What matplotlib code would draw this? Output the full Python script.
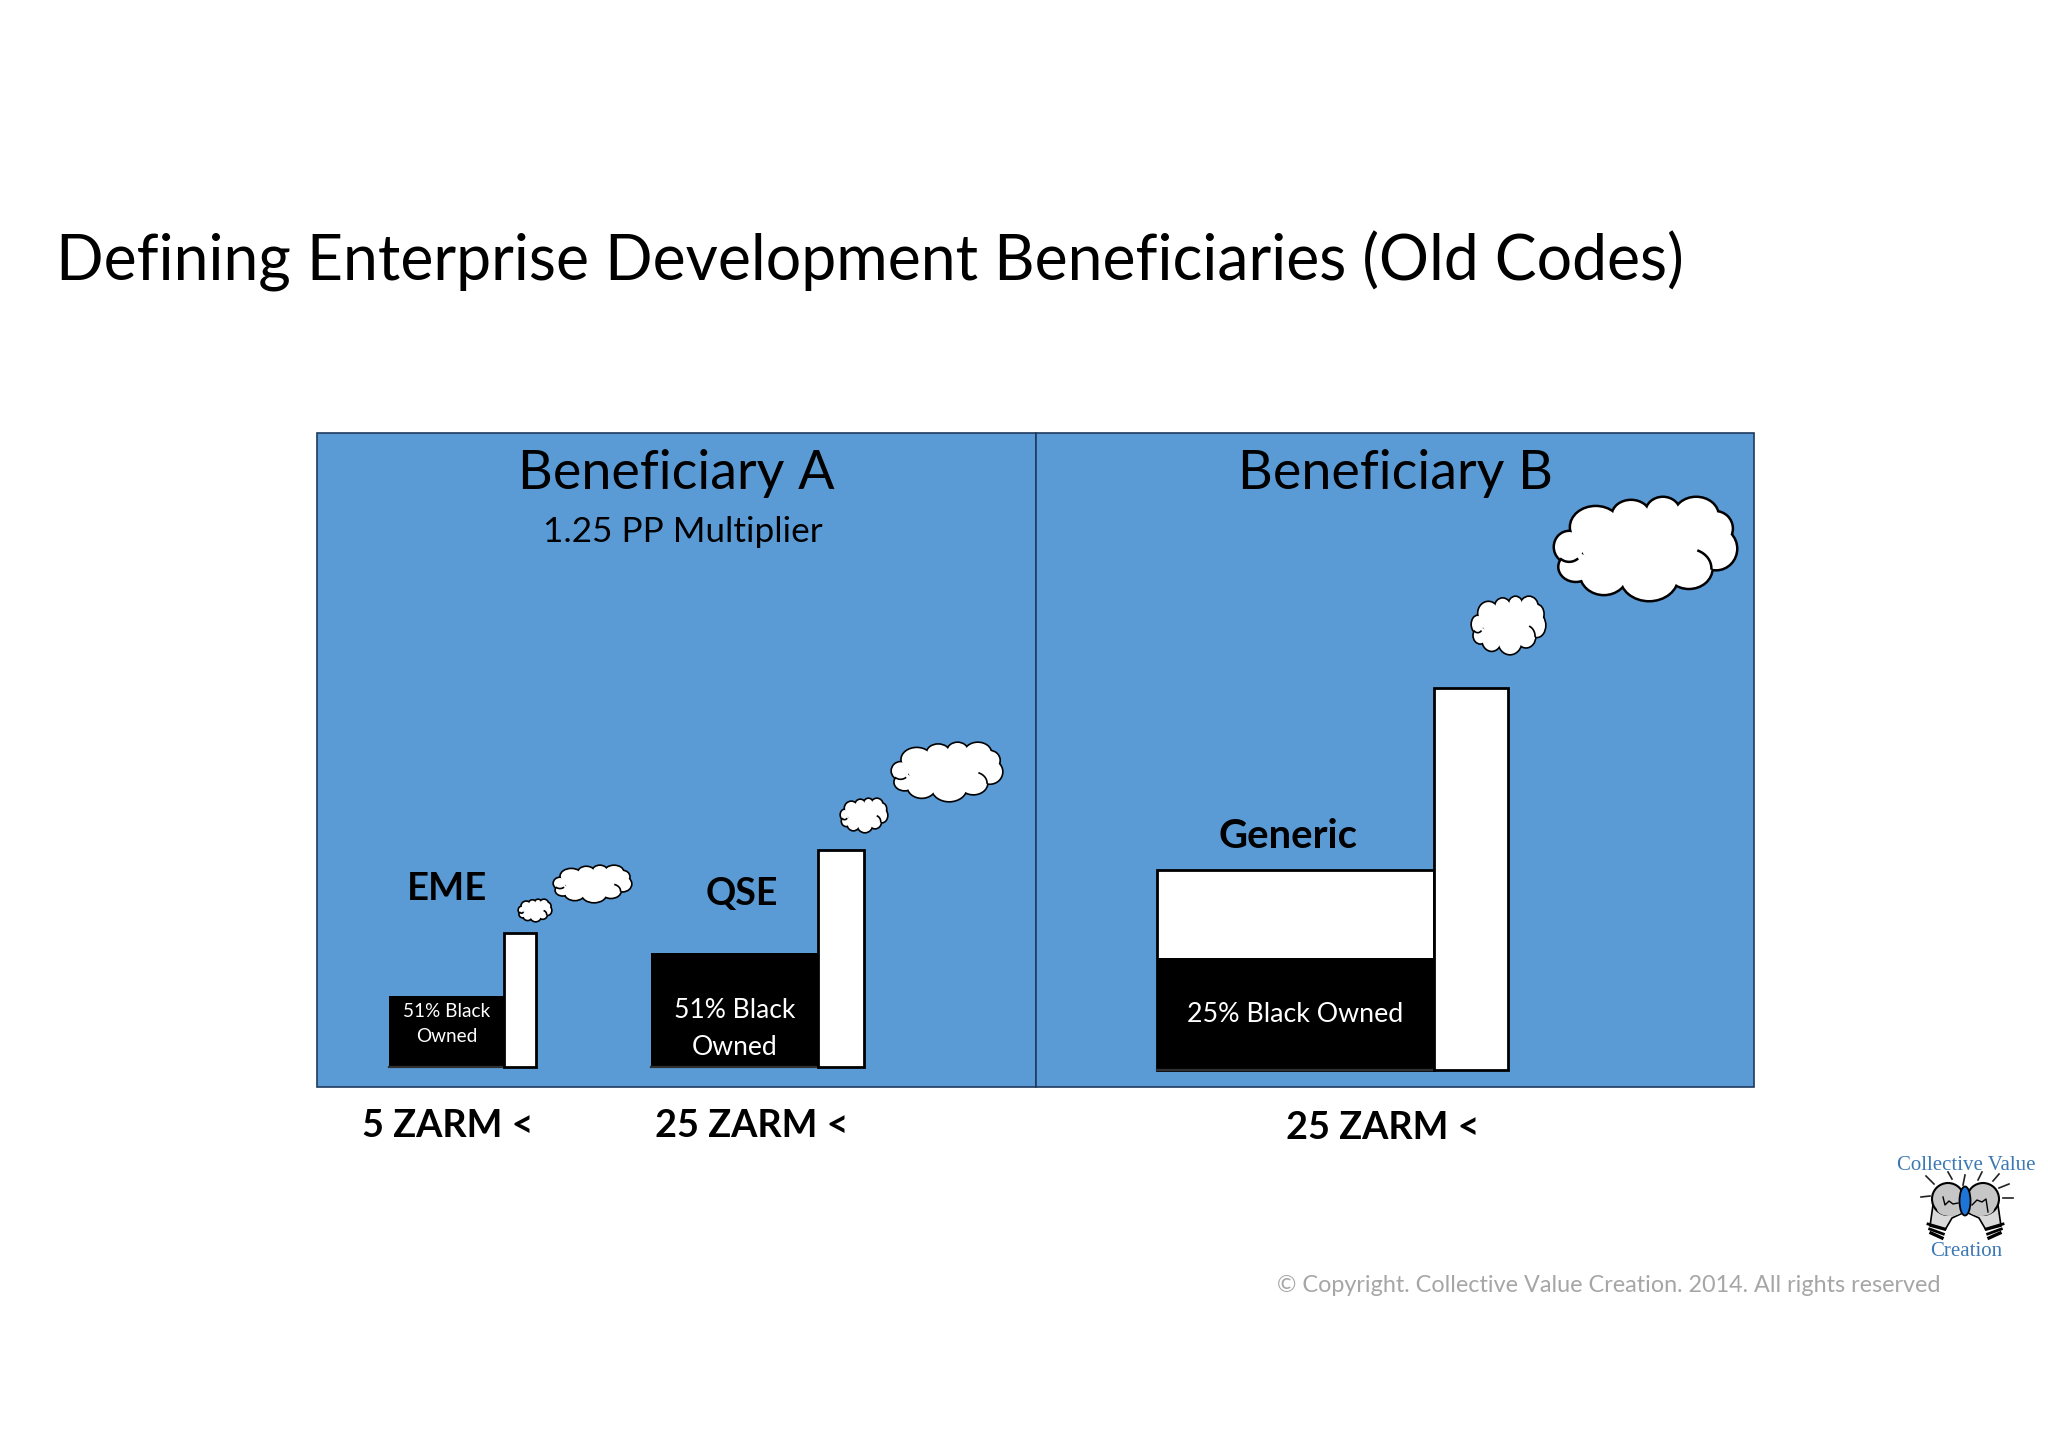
import matplotlib
matplotlib.use("Agg")
import matplotlib.pyplot as plt
import matplotlib.patches as patches
import numpy as np

plt.rcParams["font.family"] = ["Lato", "DejaVu Sans"]

BLUE = "#5b9bd5"

TITLE = "Defining Enterprise Development Beneficiaries (Old Codes)"
COPYRIGHT = "© Copyright. Collective Value Creation. 2014. All rights reserved"

# factory sizes in pixels
factories = ["EME", "QSE", "Generic"]
block_left = [389, 651, 1157]
block_right = [504, 818, 1434]
block_top = [996, 953, 870]
black_top = [996, 953, 958]
base_y = [1067, 1067, 1070]
chimney_right = [536, 864, 1508]
chimney_top = [933, 850, 688]

size_labels = ["5 ZARM <", "25 ZARM <", "25 ZARM <"]
owned_labels = ["51% Black\nOwned", "51% Black\nOwned", "25% Black Owned"]

# cloud boxes: left, right, top, bottom
clouds = [
    (554, 631, 866, 902),
    (519, 551, 900, 921),
    (892, 1002, 743, 801),
    (841, 887, 799, 832),
    (1555, 1736, 498, 600),
    (1472, 1545, 597, 654),
]

# lobes of a cloud in a unit box: cx, cy, rx, ry
LOBES = [
    (0.078, 0.48, 0.078, 0.146),
    (0.115, 0.675, 0.09, 0.136),
    (0.225, 0.285, 0.136, 0.195),
    (0.42, 0.17, 0.10, 0.14),
    (0.596, 0.14, 0.09, 0.14),
    (0.78, 0.172, 0.118, 0.172),
    (0.886, 0.30, 0.09, 0.16),
    (0.89, 0.497, 0.11, 0.2),
    (0.74, 0.69, 0.124, 0.19),
    (0.52, 0.773, 0.155, 0.227),
    (0.27, 0.74, 0.127, 0.2),
]


def draw_curl(ax, lobe, start, end, lw):
    # y runs downwards here, so the angles do too
    cx, cy, ew, eh = lobe
    t = np.radians(np.linspace(start, end, 20))
    ax.plot(cx + ew / 2 * np.cos(t), cy + eh / 2 * np.sin(t), color="black", lw=lw, zorder=6)


def draw_cloud(ax, box):
    x0, x1, y0, y1 = box
    w, h = x1 - x0, y1 - y0
    lw = max(2.0, min(3.0, w / 60))
    lobes = [(x0 + cx * w, y0 + cy * h, 2 * rx * w, 2 * ry * h) for cx, cy, rx, ry in LOBES]
    for cx, cy, ew, eh in lobes:
        ax.add_patch(patches.Ellipse((cx, cy), ew, eh, fc="white", ec="black", lw=lw * 1.2, zorder=4))
    for cx, cy, ew, eh in lobes:
        ax.add_patch(patches.Ellipse((cx, cy), ew, eh, fc="white", ec="none", zorder=5))
    ax.add_patch(patches.Ellipse((x0 + 0.5 * w, y0 + 0.45 * h), 0.72 * w, 0.66 * h, fc="white", ec="none", zorder=5))
    # the little curls inside the outline
    draw_curl(ax, lobes[8], -65, 0, lw * 0.6)
    draw_curl(ax, lobes[0], 55, 125, lw * 0.6)


def draw_bulb(ax, side):
    # side -1 is the left bulb, +1 the mirrored right one
    def mx(x):
        return x if side == -1 else 2 * 1965.5 - x

    neck = [(1933, 1205), (1930, 1226), (1945, 1230), (1952, 1218), (1965, 1212), (1958, 1192)]
    ax.add_patch(patches.Polygon([(mx(x), y) for x, y in neck], closed=True, fc="#dadada", ec="black", lw=1.2, zorder=4))
    ax.add_patch(patches.Circle((mx(1948), 1199), 16, fc="#c6c6c6", ec="black", lw=1.5, zorder=5))
    ax.add_patch(patches.Ellipse((mx(1950), 1209), 26, 14, fc="#c6c6c6", ec="none", zorder=5))
    # screw base
    for dy, lw in [(0, 2.0), (5, 2.0), (9, 2.4)]:
        ax.plot([mx(1928 + dy / 3), mx(1945 - dy / 3)], [1224 + dy, 1229 + dy], color="black", lw=lw, zorder=6)


def draw_logo(ax):
    rays = [
        ((1926, 1176), (1934, 1184)),
        ((1948, 1172), (1952, 1179)),
        ((1965, 1175), (1963, 1185)),
        ((1982, 1172), (1978, 1180)),
        ((1999, 1174), (1993, 1181)),
        ((2009, 1184), (1999, 1188)),
        ((2013, 1198), (2003, 1198)),
        ((1921, 1197), (1930, 1196)),
    ]
    for p, q in rays:
        ax.plot([p[0], q[0]], [p[1], q[1]], color="#222222", lw=1.2, zorder=4)
    draw_bulb(ax, -1)
    draw_bulb(ax, 1)
    ax.add_patch(patches.Ellipse((1965, 1201), 11, 29, fc="#1f74d8", ec="black", lw=1.3, zorder=7))
    ax.plot([1943, 1945, 1949, 1953, 1958], [1197, 1205, 1201, 1204, 1203], color="black", lw=1.0, zorder=7)
    ax.plot([1972, 1977, 1982, 1986, 1988], [1205, 1200, 1202, 1199, 1212], color="black", lw=1.0, zorder=7)
    ax.text(1966, 1165, "Collective Value", family="Liberation Serif", fontsize=15, color="#3c78b4", ha="center", va="center")
    ax.text(1966, 1252, "Creation", family="Liberation Serif", fontsize=15, color="#3c78b4", ha="center", va="center")


fig = plt.figure(figsize=(20.48, 14.48), dpi=100)
ax = fig.add_axes([0, 0, 1, 1])
ax.set_xlim(0, 2048)
ax.set_ylim(1448, 0)
ax.axis("off")

ax.text(55.5, 261, TITLE, fontsize=45, color="black", ha="left", va="center")

# the two blue panels
ax.bar([316.5, 1036], [654.5, 654.5], width=[719.5, 718], bottom=432.5, align="edge", color=BLUE, edgecolor="#1f3a5f", linewidth=1.2, zorder=1)

ax.text(676, 474, "Beneficiary A", fontsize=38.8, ha="center", va="center", zorder=3)
ax.text(683, 532, "1.25 PP Multiplier", fontsize=25.3, ha="center", va="center", zorder=3)
ax.text(1395, 474, "Beneficiary B", fontsize=38.8, ha="center", va="center", zorder=3)

for i, name in enumerate(factories):
    left, right = block_left[i], block_right[i]
    if block_top[i] < black_top[i]:
        ax.bar(left, base_y[i] - block_top[i], width=right - left, bottom=block_top[i], align="edge",
               color="white", edgecolor="black", linewidth=2, zorder=2)
    ax.bar(left, base_y[i] - black_top[i], width=right - left, bottom=black_top[i], align="edge",
           color="black", linewidth=0, zorder=3)
    ax.plot([left, right], [base_y[i], base_y[i]], color="#303030", lw=1.6, zorder=3)
    ax.bar(right, base_y[i] - chimney_top[i], width=chimney_right[i] - right, bottom=chimney_top[i], align="edge",
           color="white", edgecolor="black", linewidth=2.0, zorder=3)

for box in clouds:
    draw_cloud(ax, box)

name_pos = [(447, 889), (742, 894), (1288, 836)]
name_size = [27.5, 27, 28.8]
for name, (x, y), fs in zip(factories, name_pos, name_size):
    ax.text(x, y, name, fontsize=fs, fontweight="bold", ha="center", va="center", zorder=6)

size_pos = [(448, 1126), (752, 1126), (1383, 1128)]
for label, (x, y) in zip(size_labels, size_pos):
    ax.text(x, y, label, fontsize=27.3, fontweight="bold", ha="center", va="center")

ax.text(447, 1024, owned_labels[0], fontsize=13.7, color="white", ha="center", va="center", linespacing=1.58, zorder=6)
ax.text(735, 1029, owned_labels[1], fontsize=19.1, color="white", ha="center", va="center", linespacing=1.6, zorder=6)
ax.text(1295, 1014, owned_labels[2], fontsize=19.3, color="white", ha="center", va="center", zorder=6)

ax.text(1277, 1286, COPYRIGHT, fontsize=16.8, color="#a6a6a6", ha="left", va="center")

draw_logo(ax)

fig.savefig("out.png", dpi=100, facecolor="white")
